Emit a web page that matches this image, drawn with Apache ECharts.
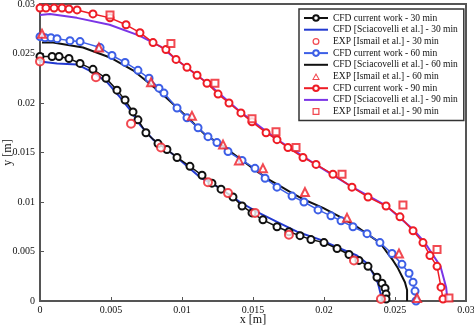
<!DOCTYPE html>
<html>
<head>
<meta charset="utf-8">
<script src="https://cdn.jsdelivr.net/npm/echarts@6/dist/echarts.min.js"></script>
<style>
html,body{margin:0;padding:0;background:#fff;}
#c{width:474px;height:326px;}
</style>
</head>
<body>
<div id="c"></div>
<script>
// Axis ticks
const xTicks = [0, 0.005, 0.01, 0.015, 0.02, 0.025, 0.03];
const yTicks = [0, 0.005, 0.01, 0.015, 0.02, 0.025, 0.03];

const seriesNames = [
  'CFD current work - 30 min',
  'CFD [Sciacovelli et al.] - 30 min',
  'EXP [Ismail et al.] - 30 min',
  'CFD current work - 60 min',
  'CFD [Sciacovelli et al.] - 60 min',
  'EXP [Ismail et al.] - 60 min',
  'CFD current work - 90 min',
  'CFD [Sciacovelli et al.] - 90 min',
  'EXP [Ismail et al.] - 90 min'
];

// 30 min
const cfdCurrent30 = [[0,0.0247],[0.00085,0.0247],[0.00134,0.0247],[0.00204,0.0245],[0.00282,0.0240],[0.00373,0.0234],[0.00465,0.0225],[0.00542,0.0213],[0.00599,0.0203],[0.00655,0.0191],[0.0069,0.0183],[0.00746,0.0170],[0.00831,0.0159],[0.00894,0.0153],[0.00965,0.0145],[0.01056,0.0136],[0.01141,0.0127],[0.01211,0.0119],[0.01275,0.0113],[0.01359,0.0105],[0.01423,0.0096],[0.01493,0.0089],[0.0157,0.0082],[0.01669,0.0075],[0.01753,0.0070],[0.01831,0.0066],[0.01908,0.0062],[0.02,0.0059],[0.02092,0.0053],[0.02176,0.0047],[0.02246,0.0041],[0.0231,0.0035],[0.02373,0.0024],[0.02408,0.0018],[0.0243,0.0013],[0.02437,0.0007],[0.02437,0.0002]];
const sciac30 = [[0,0.0242],[0.0012,0.0240],[0.00261,0.0239],[0.00373,0.0231],[0.00472,0.0221],[0.00563,0.0206],[0.00634,0.0193],[0.00704,0.0178],[0.00796,0.0163],[0.00866,0.0156],[0.00965,0.0145],[0.01127,0.0125],[0.01268,0.0114],[0.01408,0.0100],[0.01528,0.0090],[0.01669,0.0080],[0.0181,0.0070],[0.01972,0.0062],[0.02113,0.0053],[0.02232,0.0046],[0.02303,0.0038],[0.02345,0.0028],[0.0238,0.0018],[0.02401,0.0006],[0.02408,0]];
const exp30 = [[0,0.0242],[0.00394,0.0226],[0.00641,0.0179],[0.00852,0.0155],[0.01183,0.0120],[0.01324,0.0109],[0.01514,0.0089],[0.01753,0.0067],[0.02211,0.0041],[0.02401,0.0002]];

// 60 min
const cfdCurrent60 = [[0,0.0267],[0.00035,0.0266],[0.00077,0.0266],[0.0012,0.0265],[0.00211,0.0263],[0.00282,0.0262],[0.00423,0.0256],[0.00507,0.0248],[0.00599,0.0241],[0.0069,0.0233],[0.00768,0.0225],[0.00838,0.0215],[0.00873,0.0210],[0.00965,0.0195],[0.01035,0.0185],[0.01113,0.0175],[0.01183,0.0166],[0.01246,0.0160],[0.01324,0.0151],[0.01423,0.0142],[0.01514,0.0134],[0.01585,0.0124],[0.01669,0.0115],[0.01775,0.0106],[0.01859,0.0100],[0.01958,0.0092],[0.02049,0.0086],[0.0212,0.0081],[0.02204,0.0075],[0.02303,0.0068],[0.02394,0.0059],[0.02479,0.0048],[0.02549,0.0037],[0.02599,0.0028],[0.02627,0.0019],[0.02641,0.0010],[0.02648,0]];
const sciac60 = [[0.00014,0.0261],[0.00092,0.0261],[0.00303,0.0256],[0.00493,0.0246],[0.00655,0.0233],[0.0076,0.0221],[0.00845,0.0211],[0.0093,0.0200],[0.01056,0.0183],[0.01176,0.0166],[0.01246,0.0161],[0.01359,0.0149],[0.015,0.0134],[0.01606,0.0123],[0.01704,0.0115],[0.01775,0.0109],[0.01866,0.0102],[0.01993,0.0094],[0.02113,0.0085],[0.02232,0.0075],[0.0231,0.0067],[0.02394,0.0059],[0.02444,0.0049],[0.02486,0.0041],[0.02521,0.0033],[0.02549,0.0025],[0.0257,0.0019],[0.02585,0.0011],[0.02585,0]];
const exp60 = [[0.00014,0.0270],[0.00415,0.0256],[0.00782,0.0221],[0.0107,0.0187],[0.01289,0.0158],[0.01401,0.0142],[0.0157,0.0134],[0.01866,0.0110],[0.02162,0.0084],[0.02528,0.0048],[0.02655,0.0003]];

// 90 min
const cfdCurrent90 = [[0,0.0296],[0.00042,0.0296],[0.00099,0.0296],[0.00155,0.0296],[0.00204,0.0295],[0.00261,0.0294],[0.00373,0.0290],[0.00493,0.0286],[0.00606,0.0279],[0.00704,0.0271],[0.00796,0.0261],[0.00887,0.0254],[0.00958,0.0244],[0.01035,0.0236],[0.01106,0.0228],[0.01176,0.0220],[0.01254,0.0209],[0.01331,0.0200],[0.01415,0.0190],[0.01493,0.0181],[0.01592,0.0170],[0.01669,0.0163],[0.01746,0.0155],[0.01852,0.0145],[0.01944,0.0138],[0.02063,0.0128],[0.02197,0.0115],[0.0231,0.0105],[0.02437,0.0096],[0.02535,0.0085],[0.02627,0.0071],[0.02697,0.0059],[0.02746,0.0046],[0.02796,0.0035],[0.02824,0.0014],[0.02838,0.0002]];
const sciac90 = [[0,0.0289],[0.0007,0.0290],[0.0026,0.0286],[0.0049,0.0279],[0.0070,0.0268],[0.0085,0.0257],[0.0096,0.0244],[0.0118,0.0220],[0.0142,0.0190],[0.0167,0.0163],[0.0194,0.0138],[0.0220,0.0115],[0.0244,0.0096],[0.0263,0.0072],[0.0271,0.0059],[0.0277,0.0046],[0.0282,0.0035],[0.0286,0.0014],[0.0287,0]];
const exp90 = [[0.00493,0.0289],[0.00922,0.0260],[0.01232,0.0220],[0.01493,0.0184],[0.01662,0.0171],[0.01803,0.0155],[0.02127,0.0128],[0.02556,0.0097],[0.02796,0.0052],[0.0288,0.0003]];

const RED = '#ee1c25', BLUE60 = '#3d5fe6', BLUE30 = '#2239d0', PURPLE = '#7b35e6', BLACK = '#111111';
const serif = 'Liberation Serif';

function cfdLine(name, data, color) {
  return {name, type:'line', data, symbol:'emptyCircle', symbolSize:7, showAllSymbol:true,
    lineStyle:{color, width:1.5}, itemStyle:{color, borderWidth:1.2}, z:3};
}
function refLine(name, data, color) {
  return {name, type:'line', data, symbol:'none', lineStyle:{color, width:2}, itemStyle:{color}, z:2};
}
function expPts(name, data, symbol, size) {
  return {name, type:'scatter', data, symbol, symbolSize:size,
    itemStyle:{color:RED, borderColor:RED, borderWidth:1.6}, z:4};
}

const LINE_ICON = 'path://M0,0L24,0L24,2L0,2Z';
const RING_ICON = 'path://M10,0A10,10,0,1,1,10,20A10,10,0,1,1,10,0Z M10,3.6A6.4,6.4,0,1,0,10,16.4A6.4,6.4,0,1,0,10,3.6Z';
const TRI_ICON = 'path://M10,0L20,18L0,18Z M10,5.5L4.2,15.6L15.8,15.6Z';
const SQ_ICON = 'path://M0,0L20,0L20,20L0,20Z M3.6,3.6L3.6,16.4L16.4,16.4L16.4,3.6Z';
const legendData = seriesNames.map((n, i) => {
  if (i === 1 || i === 4 || i === 7) return {name:n, icon:LINE_ICON};
  if (i === 2) return {name:n, icon:RING_ICON, itemStyle:{borderWidth:0}};
  if (i === 5) return {name:n, icon:TRI_ICON, itemStyle:{borderWidth:0}};
  if (i === 8) return {name:n, icon:SQ_ICON, itemStyle:{borderWidth:0}};
  return {name:n};
});

const chart = echarts.init(document.getElementById('c'), null, {renderer:'canvas'});
const fmt = v => String(+(+v).toFixed(3));
chart.setOption({
  animation:false,
  backgroundColor:'#fff',
  grid:{left:40, right:8, top:4, bottom:25, containLabel:false, outerBoundsMode:'none',
    show:true, borderColor:'#555', borderWidth:2, backgroundColor:'transparent'},
  xAxis:{type:'value', min:xTicks[0], max:xTicks[xTicks.length-1], interval:0.005,
    name:'x [m]', nameLocation:'middle', nameGap:13, nameMoveOverlap:false,
    nameTextStyle:{fontFamily:serif, fontSize:12, color:'#111'},
    axisLine:{show:true, lineStyle:{color:'#555', width:2}},
    axisTick:{show:true, inside:true, length:4, lineStyle:{color:'#555', width:1}},
    axisLabel:{fontFamily:serif, fontSize:10, color:'#111', margin:4, formatter:fmt},
    splitLine:{show:false}},
  yAxis:{type:'value', min:yTicks[0], max:yTicks[yTicks.length-1], interval:0.005,
    name:'y [m]', nameLocation:'middle', nameGap:26, nameMoveOverlap:false,
    nameTextStyle:{fontFamily:serif, fontSize:12, color:'#111'},
    axisLine:{show:true, lineStyle:{color:'#555', width:2}},
    axisTick:{show:true, inside:true, length:4, lineStyle:{color:'#555', width:1}},
    axisLabel:{fontFamily:serif, fontSize:10, color:'#111', margin:5, formatter:fmt},
    splitLine:{show:false}},
  legend:{orient:'vertical', left:299, top:9, width:164,
    padding:[4,6,4,4], itemGap:1.7, itemWidth:24, itemHeight:7,
    backgroundColor:'#fff', borderColor:'#333', borderWidth:1.5, borderRadius:0,
    textStyle:{fontFamily:serif, fontSize:9.5, lineHeight:10, color:'#111'},
    data:legendData},
  series:[
    cfdLine(seriesNames[0], cfdCurrent30, BLACK),
    refLine(seriesNames[1], sciac30, BLUE30),
    expPts(seriesNames[2], exp30, 'emptyCircle', 8),
    cfdLine(seriesNames[3], cfdCurrent60, BLUE60),
    refLine(seriesNames[4], sciac60, BLACK),
    expPts(seriesNames[5], exp60, 'emptyTriangle', 8),
    cfdLine(seriesNames[6], cfdCurrent90, RED),
    refLine(seriesNames[7], sciac90, PURPLE),
    expPts(seriesNames[8], exp90, 'emptyRect', 7)
  ]
});
</script>
</body>
</html>
